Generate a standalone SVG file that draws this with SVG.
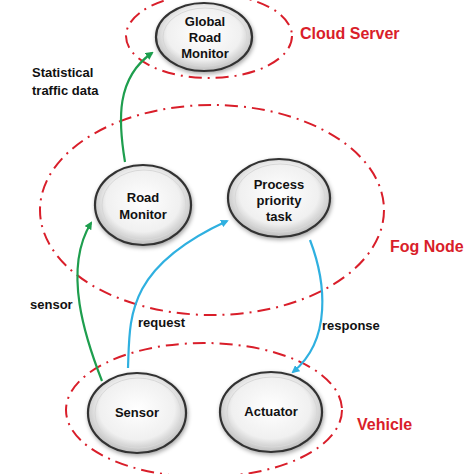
<svg xmlns="http://www.w3.org/2000/svg" width="474" height="474" viewBox="0 0 474 474">
<defs>
<radialGradient id="ng" cx="50%" cy="45%" r="55%">
<stop offset="0" stop-color="#ffffff"/>
<stop offset="0.7" stop-color="#f0f0f0"/>
<stop offset="1" stop-color="#bdbdbd"/>
</radialGradient>
<filter id="sh" x="-20%" y="-20%" width="140%" height="150%">
<feDropShadow dx="1" dy="2" stdDeviation="2" flood-color="#000" flood-opacity="0.35"/>
</filter>
<marker id="ag" markerWidth="8" markerHeight="8" refX="6" refY="4" orient="auto" markerUnits="userSpaceOnUse">
<path d="M0,0 L8,4 L0,8 z" fill="#1e9e4e"/>
</marker>
<marker id="ab" markerWidth="8" markerHeight="8" refX="6" refY="4" orient="auto" markerUnits="userSpaceOnUse">
<path d="M0,0 L8,4 L0,8 z" fill="#2fb0e0"/>
</marker>
</defs>
<style>
.zone{fill:none;stroke:#d91e2a;stroke-width:2;stroke-dasharray:13 6 2 6}
.node{fill:url(#ng);stroke:#333;stroke-width:2.2;filter:url(#sh)}
.inner{fill:none;stroke:#d8d8d8;stroke-width:1}
.nt{font-family:"Liberation Sans",Arial,sans-serif;font-weight:bold;font-size:13px;fill:#111;text-anchor:middle}
.zt{font-family:"Liberation Sans",Arial,sans-serif;font-weight:bold;font-size:16px;fill:#d91e2a}
.lt{font-family:"Liberation Sans",Arial,sans-serif;font-weight:bold;font-size:13px;fill:#111}
.g{fill:none;stroke:#1e9e4e;stroke-width:2.2}
.b{fill:none;stroke:#2fb0e0;stroke-width:2.2}
</style>
<rect width="474" height="474" fill="#fff"/>
<g id="zones">
<ellipse class="zone" cx="209" cy="36" rx="83" ry="42"/>
<ellipse class="zone" cx="212" cy="210" rx="172" ry="105"/>
<ellipse class="zone" cx="204" cy="410" rx="138" ry="67"/>
<text class="zt" x="300" y="39">Cloud Server</text>
<text class="zt" x="390" y="252">Fog Node</text>
<text class="zt" x="357" y="430">Vehicle</text>
</g>
<g id="connectors">
<path class="g" d="M125,162 C118,120 116,78 152,53" marker-end="url(#ag)"/>
<path class="g" d="M102,381 C86,340 62,270 91,223" marker-end="url(#ag)"/>
<path class="b" d="M128,368 C130,318 125,268 227,221" marker-end="url(#ab)"/>
<path class="b" d="M310,240 C326,282 332,340 293,372" marker-end="url(#ab)"/>
<text class="lt" x="32" y="77">Statistical</text>
<text class="lt" x="32" y="95">traffic data</text>
<text class="lt" x="30" y="309">sensor</text>
<text class="lt" x="138" y="327">request</text>
<text class="lt" x="322" y="330">response</text>
</g>
<g id="global-road-monitor">
<ellipse class="node" cx="204" cy="37" rx="48" ry="34"/>
<ellipse class="inner" cx="205" cy="37" rx="42" ry="29"/>
<text class="nt" x="205" y="26">Global</text>
<text class="nt" x="205" y="42">Road</text>
<text class="nt" x="205" y="58">Monitor</text>
</g>
<g id="road-monitor">
<ellipse class="node" cx="143" cy="205" rx="48" ry="40"/>
<ellipse class="inner" cx="144" cy="205" rx="42" ry="35"/>
<text class="nt" x="143" y="202">Road</text>
<text class="nt" x="143" y="219">Monitor</text>
</g>
<g id="process-priority-task">
<ellipse class="node" cx="279" cy="198" rx="51" ry="39"/>
<ellipse class="inner" cx="280" cy="198" rx="45" ry="34"/>
<text class="nt" x="279" y="189">Process</text>
<text class="nt" x="279" y="205">priority</text>
<text class="nt" x="279" y="221">task</text>
</g>
<g id="sensor">
<ellipse class="node" cx="137" cy="413" rx="49" ry="40"/>
<ellipse class="inner" cx="138" cy="413" rx="43" ry="35"/>
<text class="nt" x="137" y="417">Sensor</text>
</g>
<g id="actuator">
<ellipse class="node" cx="271" cy="412" rx="51" ry="40"/>
<ellipse class="inner" cx="272" cy="412" rx="45" ry="35"/>
<text class="nt" x="271" y="416">Actuator</text>
</g>
</svg>
